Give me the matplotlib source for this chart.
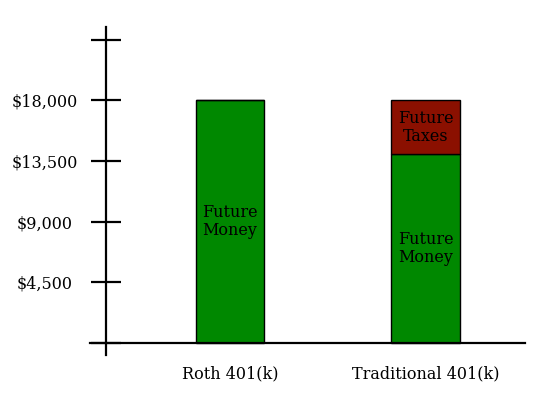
import matplotlib.pyplot as plt

# data
accounts = ['Roth 401(k)', 'Traditional 401(k)']
future_money = [18000, 14000]
future_taxes = [0, 4000]
tick_values = [0, 4500, 9000, 13500, 18000, 22500]
tick_labels = ['', '$4,500', '$9,000', '$13,500', '$18,000', '']

plt.rcParams['font.family'] = ['DejaVu Serif']

fig = plt.figure(figsize=(5.54, 4.0), dpi=100)
ax = fig.add_axes([0, 0, 1, 1])

x = list(range(len(accounts)))
ax.bar(x, future_money, width=0.35, color='#008800', edgecolor='black', linewidth=1)
ax.bar(x, future_taxes, width=0.35, bottom=future_money, color='#8b1000',
       edgecolor='black', linewidth=1)

# labels inside bars
for i in x:
    ax.text(i, future_money[i] / 2, 'Future\nMoney', ha='center', va='center',
            fontsize=11.5, linespacing=1.1)
    if future_taxes[i] > 0:
        ax.text(i, future_money[i] + future_taxes[i] / 2, 'Future\nTaxes',
                ha='center', va='center', fontsize=11.5, linespacing=1.1)

ax.set_xlim(-1.176, 1.657)
ax.set_ylim(-4225, 25431)

for s in ['top', 'right']:
    ax.spines[s].set_visible(False)
ax.spines['left'].set_position(('data', -0.634))
ax.spines['left'].set_bounds(-890, 23426)
ax.spines['bottom'].set_position(('data', 0))
ax.spines['bottom'].set_bounds(-0.716, 1.509)
ax.spines['left'].set_linewidth(1.6)
ax.spines['bottom'].set_linewidth(1.6)

ax.set_yticks(tick_values)
ax.set_yticklabels(tick_labels, fontsize=11.5, ha='center')
ax.tick_params(axis='y', direction='inout', length=22, width=1.6, pad=33)

ax.set_xticks(x)
ax.set_xticklabels(accounts, fontsize=11.5)
ax.tick_params(axis='x', length=0, pad=16)

fig.savefig('out.png', dpi=100)
